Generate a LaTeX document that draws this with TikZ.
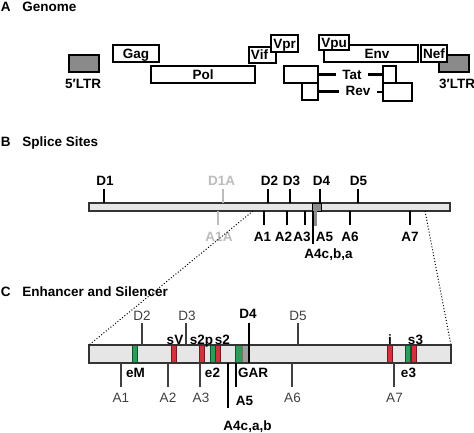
\documentclass[tikz,border=0pt]{standalone}
\usepackage{fontspec}
\setmainfont{Liberation Sans}
\usetikzlibrary{calc}
\definecolor{ltrgray}{RGB}{138,138,138}
\definecolor{bargray}{RGB}{230,230,230}
\definecolor{sitegray}{RGB}{188,188,188}
\definecolor{enhgreen}{RGB}{45,155,90}
\definecolor{enhgreendk}{RGB}{10,85,45}
\definecolor{silred}{RGB}{210,50,60}
\definecolor{silreddk}{RGB}{125,20,30}

\begin{document}
\begin{tikzpicture}[x=1pt, y=-1pt, line width=1.1pt,
  font=\fontsize{13.5}{16}\selectfont\bfseries,
  txt/.style={inner sep=0, text height=9.7pt, text depth=0pt},
  reg/.style={txt, font=\fontsize{13.5}{16}\selectfont\mdseries, text=black!75},
  gene/.style={draw, fill=white, inner sep=0, outer sep=0, text height=9.7pt, text depth=0pt},
  ltr/.style={draw, fill=ltrgray, inner sep=0, outer sep=0, minimum width=30pt, minimum height=17pt},
  genebar/.style={draw=black!80, fill=bargray, inner sep=0, outer sep=0},
  exonlink/.style={line width=2.7pt},
  zoomline/.style={dotted, line width=1pt},
  enh/.style={fill=enhgreen, draw=enhgreendk, line width=0.9pt},
  sil/.style={fill=silred, draw=silreddk, line width=0.9pt},
  gar/.style={fill=black!38, draw=black!55, line width=0.9pt}]
\useasboundingbox (0,0) rectangle (474,433);

\node[txt, anchor=west] (ttlA) at (0.3,7) {A};
\node[txt, anchor=west] at (21.7,7) {Genome};
\node[txt, anchor=west] (ttlB) at (0.3,142) {B};
\node[txt, anchor=west] at (21.7,142) {Splice Sites};
\node[txt, anchor=west] (ttlC) at (0.3,291.5) {C};
\node[txt, anchor=west] at (21.7,291.5) {Enhancer and Silencer};

\node[ltr] (ltr5) at (84,63.5) {};
\node[txt] (ltr5lbl) at (83,84) {5′LTR};
\foreach \nm/\x/\y/\w/\h in {gag/136/53.5/46/17, pol/203/74.5/104/17,
    vif/262.5/55/27/16, vpr/284.5/43.5/27/17, env/371/53.5/94/17,
    vpu/334/42.5/30/15}
  \node[gene, minimum width=\w*1pt, minimum height=\h*1pt] (\nm) at (\x,\y) {};
\foreach \nm/\txt/\x/\y in {gaglbl/Gag/136/53.5, pollbl/Pol/203/74.5, viflbl/Vif/259.5/55,
    vprlbl/Vpr/284.5/43.5, envlbl/Env/377/53.5, vpulbl/Vpu/334/42.5}
  \node[txt] (\nm) at (\x,\y) {\txt};
\node[ltr] (ltr3) at (454,63.5) {};
\node[gene, minimum width=26pt, minimum height=17pt] (nef) at (434,53.5) {Nef};
\node[txt] (ltr3lbl) at (457,84) {3′LTR};

\foreach \nm/\x/\y/\w/\h in {tat1/301/74.5/34/17, rev1/310/91.5/16/17,
    tat2/389.5/74.5/13/17, rev2/397.5/92/29/18}
  \node[gene, minimum width=\w*1pt, minimum height=\h*1pt] (\nm) at (\x,\y) {};
\node[txt, inner xsep=6pt] (tat) at (352,74.2) {Tat};
\node[txt, inner xsep=6pt] (rev) at (358,90.8) {Rev};
\draw[exonlink] (tat1.east) -- (tat1.east -| tat.west);
\draw[exonlink] (tat.east |- tat2.west) -- (tat2.west);
\draw[exonlink] (rev1.east) -- (rev1.east -| rev.west);
\draw[exonlink] (rev.east |- rev2.west) -- (rev2.west);

\node[genebar, minimum width=361pt, minimum height=8pt] (barB) at (269.5,207) {};
\draw[fill=black!45, line width=0.7pt] (312,203) rectangle (321,211);
\foreach \nm/\x/\lx in {D1/104/105, D2/268/269.5, D3/290/291.5, D4/320/321.5, D5/358/358.5} {
  \node[txt] (b\nm) at (\lx,180.5) {\nm};
  \draw (\x,189) -- (\x,203);
}
\foreach \nm/\x/\lx in {A1/264/262.5, A2/287/283.5, A3/305/302, A6/350/350, A7/410/410} {
  \node[txt] (b\nm) at (\lx,236.5) {\nm};
  \draw (\x,211) -- (\x,225);
}
\node[txt, text=sitegray] (bD1A) at (221.7,180.5) {D1A};
\draw[sitegray] (223,189) -- (223,203);
\node[txt, text=sitegray] (bA1A) at (219,236.5) {A1A};
\draw[sitegray] (218,211) -- (218,225);
\draw[black!45, line width=2.4pt] (315.5,211) -- (315.5,226);
\node[txt] (bA5) at (324.5,236.5) {A5};
\draw (313,211) -- (313,244);
\node[txt] (bA4) at (328.5,253.5) {A4c,b,a};

\coordinate (zl) at (253,211);
\coordinate (zr) at (425,211);

\node[genebar, minimum width=362pt, minimum height=18pt] (barC) at (270,354) {};
\foreach \l/\r/\st in {132.3/137.3/enh, 171.7/176.7/sil, 199.3/204.3/sil, 210/215/enh,
    215.7/220.7/sil, 235.5/242/enh, 242/248.5/gar, 387.7/392.7/sil, 405.7/410.7/enh,
    411.7/416.7/sil}
  \draw[\st] (\l,345) rectangle (\r,363);
\draw[black!80] (barC.north west) rectangle (barC.south east);
\draw[zoomline] (zl) -- (barC.north west);
\draw[zoomline] (zr) -- (barC.north east);

\foreach \nm/\x/\lx in {D2/142/142, D3/186/187, D5/298/298} {
  \node[reg] (c\nm) at (\lx,315.5) {\nm};
  \draw[black!75] (\x,323) -- (\x,345);
}
\node[txt] (cD4) at (248,313.5) {D4};
\draw (249,323) -- (249,363);
\foreach \nm/\x/\lx in {A1/121/121, A2/168/168, A3/200/201, A6/292/292.5, A7/394/394.5} {
  \node[reg] (c\nm) at (\lx,397.5) {\nm};
  \draw[black!75] (\x,363) -- (\x,387);
}
\node[txt] (cA5) at (244.5,400.5) {A5};
\draw (236,363) -- (236,387);
\node[txt] (cA4) at (247.5,425.5) {A4c,a,b};
\draw (228,363) -- (228,408);

\foreach \nm/\txt/\x in {sv/sV/175, stwop/s2p/201.5, stwo/s2/222.5, i/i/390, sthree/s3/415.5}
  \node[txt] (\nm) at (\x,339.5) {\txt};
\foreach \nm/\txt/\x in {em/eM/135.5, etwo/e2/212.5, gar/GAR/253, ethree/e3/408.5}
  \node[txt] (\nm) at (\x,373) {\txt};
\end{tikzpicture}
\end{document}
